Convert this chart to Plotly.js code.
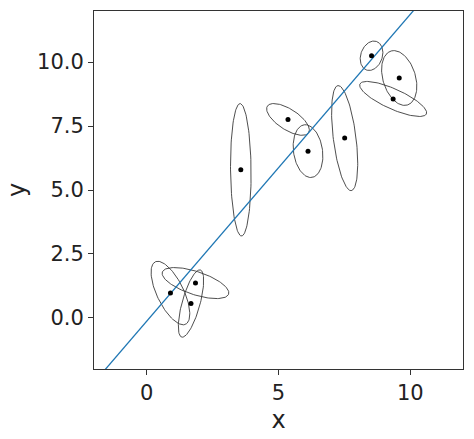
<!DOCTYPE html>
<html>
<head>
<meta charset="utf-8">
<script src="https://cdn.plot.ly/plotly-3.0.1.min.js"></script>
<style>
  html, body { margin: 0; padding: 0; background: #fff; }
  #graph { width: 474px; height: 439px; }
</style>
</head>
<body>
<div id="graph"></div>
<script>
// point positions
const pointX = [0.90, 1.85, 1.68, 3.57, 5.36, 6.12, 7.51, 8.53, 9.58, 9.35];
const pointY = [0.97, 1.36, 0.56, 5.79, 7.76, 6.52, 7.03, 10.25, 9.38, 8.56];

// error ellipses: full width along angle, full height, angle in degrees
const ellWidth  = [2.70, 2.66, 2.72, 5.18, 1.88, 2.08, 4.14, 1.18, 2.20, 2.78];
const ellHeight = [1.02, 0.90, 0.68, 0.78, 0.80, 1.10, 0.86, 0.82, 1.24, 0.78];
const ellAngle  = [115, -19, 75, 90.6, -34, 98, 97, 72, 106, -25];

// fitted line end points
const lineX = [-2, 12];
const lineY = [-2.53, 14.27];

const xTicks = [0, 5, 10];
const yTicks = [0, 2.5, 5, 7.5, 10];

function ellipsePath(cx, cy, w, h, angDeg) {
  const xs = [], ys = [];
  const t = angDeg * Math.PI / 180;
  const a = w / 2, b = h / 2;
  for (let i = 0; i <= 120; i++) {
    const p = 2 * Math.PI * i / 120;
    const ex = a * Math.cos(p), ey = b * Math.sin(p);
    xs.push(cx + ex * Math.cos(t) - ey * Math.sin(t));
    ys.push(cy + ex * Math.sin(t) + ey * Math.cos(t));
  }
  return {x: xs, y: ys};
}

const traces = [];

for (let i = 0; i < pointX.length; i++) {
  const e = ellipsePath(pointX[i], pointY[i], ellWidth[i], ellHeight[i], ellAngle[i]);
  traces.push({
    x: e.x, y: e.y,
    mode: 'lines',
    line: {color: '#3a3a3a', width: 0.9},
    hoverinfo: 'skip',
    showlegend: false
  });
}

traces.push({
  x: lineX, y: lineY,
  mode: 'lines',
  line: {color: '#1f77b4', width: 1.3},
  showlegend: false
});

traces.push({
  x: pointX, y: pointY,
  mode: 'markers',
  marker: {color: '#000000', size: 5},
  showlegend: false
});

const tickFont = {family: 'DejaVu Sans, sans-serif', size: 21, color: '#222'};
const titleFont = {family: 'DejaVu Sans, sans-serif', size: 24, color: '#222'};

const layout = {
  width: 474,
  height: 439,
  margin: {l: 94, r: 11, t: 11, b: 70, pad: 0},
  paper_bgcolor: '#fff',
  plot_bgcolor: '#fff',
  font: tickFont,
  xaxis: {
    range: [-2, 12],
    tickvals: xTicks,
    ticktext: xTicks.map(v => String(v)),
    ticks: 'outside',
    ticklen: 5,
    tickwidth: 1,
    tickcolor: '#333',
    showgrid: false,
    zeroline: false,
    showline: true,
    linecolor: '#333',
    linewidth: 1,
    mirror: true,
    tickfont: tickFont,
    title: {text: 'x', font: titleFont, standoff: 6}
  },
  yaxis: {
    range: [-2, 12],
    tickvals: yTicks,
    ticktext: yTicks.map(v => v.toFixed(1)),
    ticks: 'outside',
    ticklen: 5,
    tickwidth: 1,
    tickcolor: '#333',
    showgrid: false,
    zeroline: false,
    showline: true,
    linecolor: '#333',
    linewidth: 1,
    mirror: true,
    tickfont: tickFont,
    title: {text: 'y', font: titleFont, standoff: 4}
  }
};

Plotly.newPlot('graph', traces, layout, {displayModeBar: false, staticPlot: true});
</script>
</body>
</html>
